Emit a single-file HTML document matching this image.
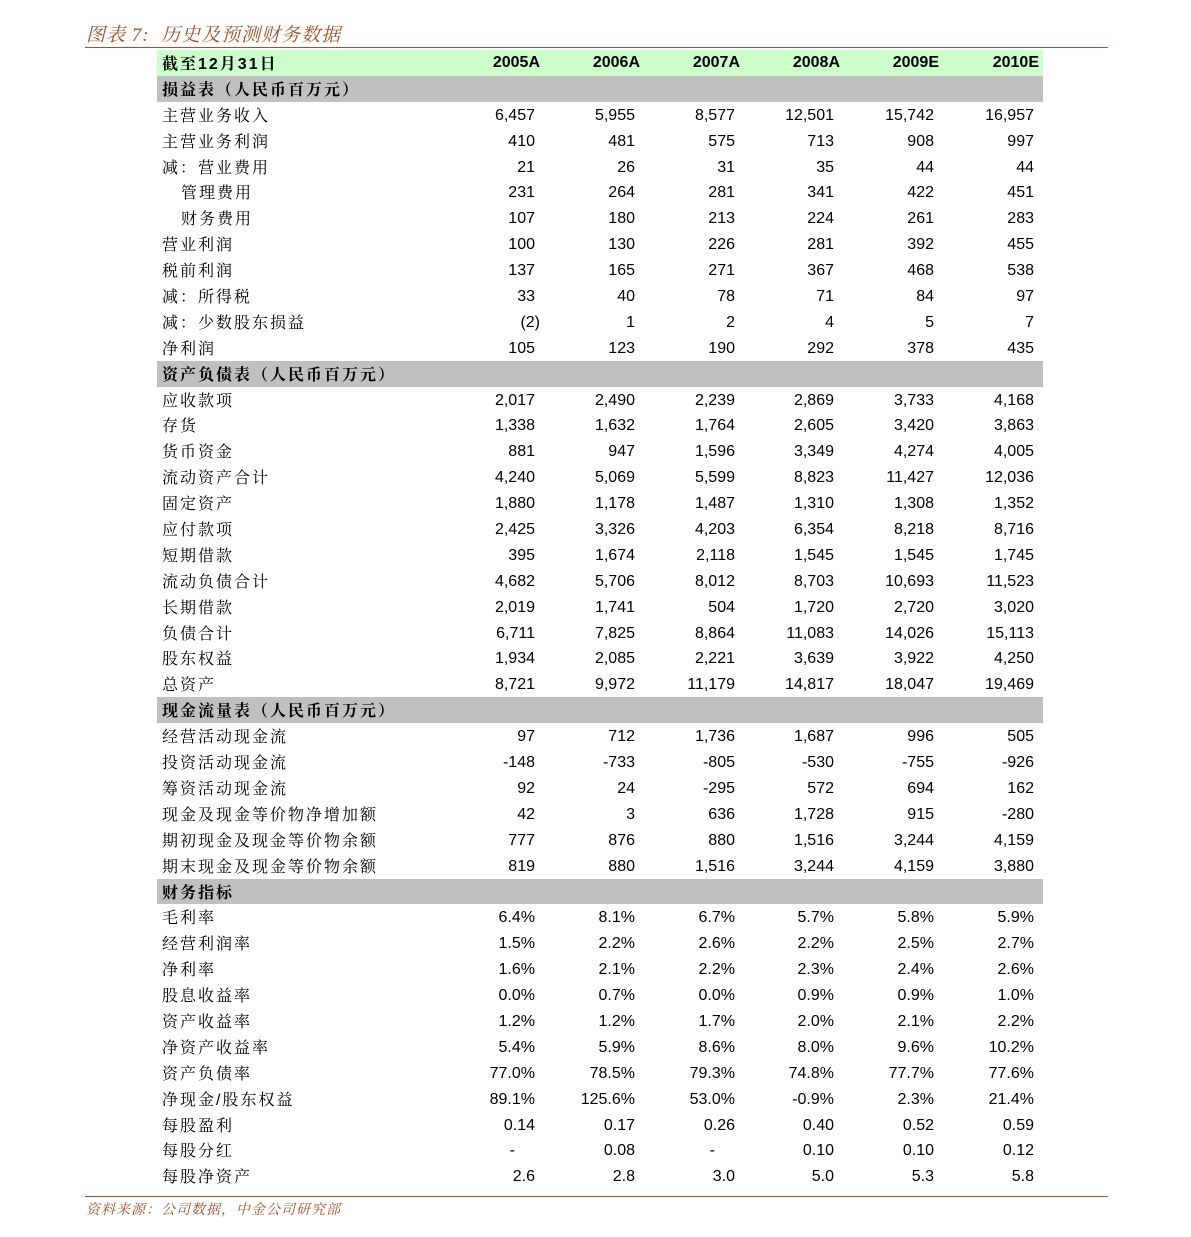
<!DOCTYPE html>
<html><head><meta charset="utf-8"><style>
body{margin:0;width:1191px;height:1237px;background:#fff;position:relative;font-family:"Liberation Sans","Noto Sans CJK SC",sans-serif;overflow:hidden}
.title{position:absolute;left:86px;top:20px;font-size:19px;font-style:italic;color:#a0522d;font-family:"Liberation Serif","Noto Serif CJK SC",serif;letter-spacing:1px}
.hl{position:absolute;left:85px;width:1023px;height:1px;background:#a0522d}
.src{position:absolute;left:86px;top:1199px;font-size:14px;letter-spacing:1px;font-style:italic;color:#a0522d;font-family:"Liberation Serif","Noto Serif CJK SC",serif}
#t{position:absolute;left:157px;top:50px;width:886px}
.r{height:25.9px;position:relative;font-size:16px;color:#000}
.r span{position:absolute;top:5px;white-space:nowrap}
.r span.l{top:1px;left:5px;letter-spacing:2px;font-family:"Liberation Sans","Noto Serif CJK SC",serif}
.r .l.i{left:24px}
.h{background:#ccffcc;font-weight:bold;font-size:16px}
.h span{top:4px}
.s{background:#c0c0c0;font-weight:bold}
.n{text-align:right;width:100px}
</style></head><body>
<div class="title">图表 7:&nbsp; 历史及预测财务数据</div>
<div class="hl" style="top:47px"></div>
<div id="t"></div>
<div class="hl" style="top:1196px"></div>
<div class="src">资料来源：公司数据，中金公司研究部</div>
<script>
var rows=[
['h','截至12月31日','2005A','2006A','2007A','2008A','2009E','2010E'],
['s','损益表（人民币百万元）'],
['','主营业务收入','6,457','5,955','8,577','12,501','15,742','16,957'],
['','主营业务利润','410','481','575','713','908','997'],
['','减：营业费用','21','26','31','35','44','44'],
['i','管理费用','231','264','281','341','422','451'],
['i','财务费用','107','180','213','224','261','283'],
['','营业利润','100','130','226','281','392','455'],
['','税前利润','137','165','271','367','468','538'],
['','减：所得税','33','40','78','71','84','97'],
['','减：少数股东损益','(2)','1','2','4','5','7'],
['','净利润','105','123','190','292','378','435'],
['s','资产负债表（人民币百万元）'],
['','应收款项','2,017','2,490','2,239','2,869','3,733','4,168'],
['','存货','1,338','1,632','1,764','2,605','3,420','3,863'],
['','货币资金','881','947','1,596','3,349','4,274','4,005'],
['','流动资产合计','4,240','5,069','5,599','8,823','11,427','12,036'],
['','固定资产','1,880','1,178','1,487','1,310','1,308','1,352'],
['','应付款项','2,425','3,326','4,203','6,354','8,218','8,716'],
['','短期借款','395','1,674','2,118','1,545','1,545','1,745'],
['','流动负债合计','4,682','5,706','8,012','8,703','10,693','11,523'],
['','长期借款','2,019','1,741','504','1,720','2,720','3,020'],
['','负债合计','6,711','7,825','8,864','11,083','14,026','15,113'],
['','股东权益','1,934','2,085','2,221','3,639','3,922','4,250'],
['','总资产','8,721','9,972','11,179','14,817','18,047','19,469'],
['s','现金流量表（人民币百万元）'],
['','经营活动现金流','97','712','1,736','1,687','996','505'],
['','投资活动现金流','-148','-733','-805','-530','-755','-926'],
['','筹资活动现金流','92','24','-295','572','694','162'],
['','现金及现金等价物净增加额','42','3','636','1,728','915','-280'],
['','期初现金及现金等价物余额','777','876','880','1,516','3,244','4,159'],
['','期末现金及现金等价物余额','819','880','1,516','3,244','4,159','3,880'],
['s','财务指标'],
['','毛利率','6.4%','8.1%','6.7%','5.7%','5.8%','5.9%'],
['','经营利润率','1.5%','2.2%','2.6%','2.2%','2.5%','2.7%'],
['','净利率','1.6%','2.1%','2.2%','2.3%','2.4%','2.6%'],
['','股息收益率','0.0%','0.7%','0.0%','0.9%','0.9%','1.0%'],
['','资产收益率','1.2%','1.2%','1.7%','2.0%','2.1%','2.2%'],
['','净资产收益率','5.4%','5.9%','8.6%','8.0%','9.6%','10.2%'],
['','资产负债率','77.0%','78.5%','79.3%','74.8%','77.7%','77.6%'],
['','净现金/股东权益','89.1%','125.6%','53.0%','-0.9%','2.3%','21.4%'],
['','每股盈利','0.14','0.17','0.26','0.40','0.52','0.59'],
['','每股分红','-','0.08','-','0.10','0.10','0.12'],
['','每股净资产','2.6','2.8','3.0','5.0','5.3','5.8']
];
var nr=[378,478,578,677,777,877],hr=[383,483,583,683,782,882];
var h='';
rows.forEach(function(r){
 var c=r[0]=='h'?'r h':r[0]=='s'?'r s':'r';
 h+='<div class="'+c+'"><span class="l'+(r[0]=='i'?' i':'')+'">'+r[1]+'</span>';
 for(var k=2;k<r.length;k++){
  var right=(r[0]=='h'?hr:nr)[k-2];
  var v=r[k];
  if(v.charAt(0)=='('||v=='-'){right+=(v=='-'?-20:5);}
  h+='<span class="n" style="left:'+(right-100)+'px">'+v+'</span>';
 }
 h+='</div>';
});
document.getElementById('t').innerHTML=h;
</script>
</body></html>
